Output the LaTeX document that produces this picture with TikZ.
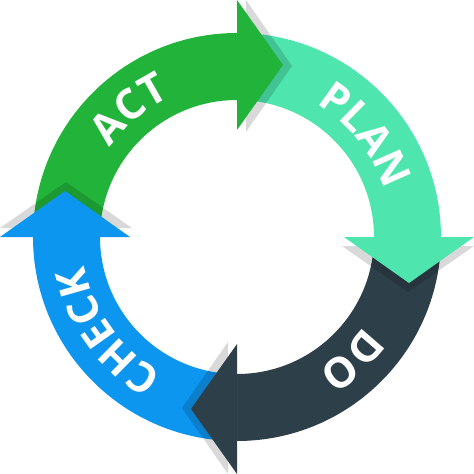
\documentclass[tikz,border=0pt]{standalone}
\usepackage{fontspec}
\usetikzlibrary{decorations.text}
\setmainfont{Open Sans}
\definecolor{actgreen}{RGB}{34,180,58}
\definecolor{planmint}{RGB}{78,230,174}
\definecolor{doslate}{RGB}{45,63,73}
\definecolor{checkblue}{RGB}{13,150,240}
\newcommand{\lblfont}{\fontsize{42}{42}\selectfont\bfseries}
\tikzset{
  headshade/.style={fill=black, fill opacity=0.15},
  ringlabel/.style={decorate, decoration={text along path, text align=center,
    text color=white, text={|\lblfont|#1}}},
}
\begin{document}
\begin{tikzpicture}[x=1pt, y=1pt]
  \clip (-237,-237) rectangle (237,237);
  % ring segments, clockwise starting with ACT
  \foreach \r/\col in {0/actgreen, -90/planmint, -180/doslate, -270/checkblue} {
    \fill[\col, rotate=\r] (180:204) arc[start angle=180, end angle=90, radius=204]
      -- (90:137) arc[start angle=90, end angle=180, radius=137] -- cycle;
  }
  % arrow heads, each with a soft shadow on the next segment
  \foreach \r/\col in {0/actgreen, -90/planmint, -180/doslate, -270/checkblue} {
    \begin{scope}[rotate=\r]
      \fill[headshade] (9,105) -- (9,237) -- (55,171) -- cycle;
      \fill[\col] (0,107) -- (0,237) -- (46,172) -- cycle;
    \end{scope}
  }
  % labels along the ring (baseline on the inner side)
  \path[ringlabel=ACT] (175:155) arc[start angle=175, end angle=85, radius=155];
  \path[ringlabel=PLAN] (83.5:155) arc[start angle=83.5, end angle=-6.5, radius=155];
  \path[ringlabel=DO] (-2:155) arc[start angle=-2, end angle=-92, radius=155];
  \path[ringlabel=CHECK] (-99:155) arc[start angle=-99, end angle=-189, radius=155];
\end{tikzpicture}
\end{document}
